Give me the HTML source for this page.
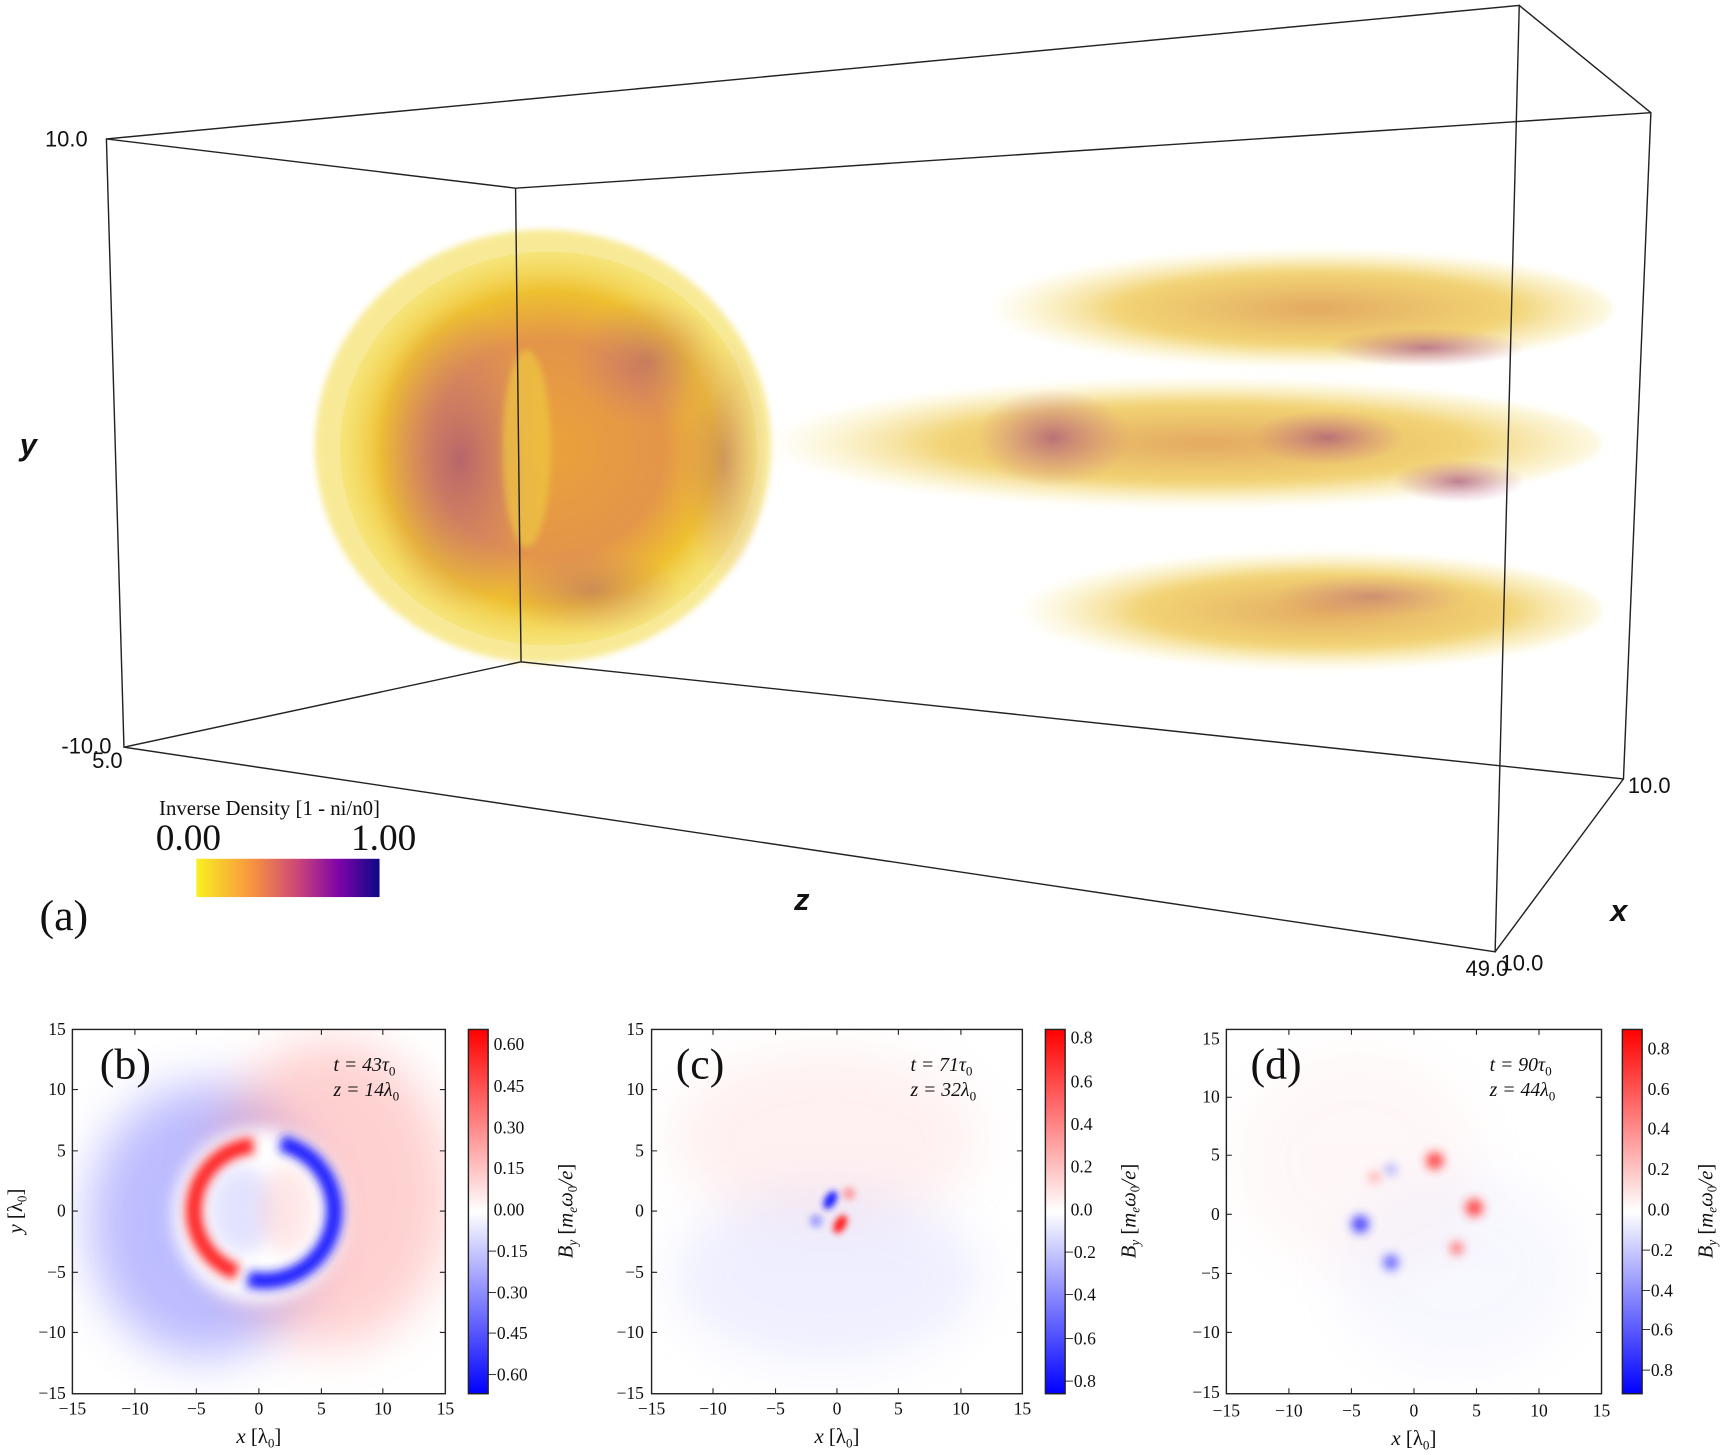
<!DOCTYPE html>
<html><head><meta charset="utf-8"><style>
html,body{margin:0;padding:0;background:#fff;}
svg{display:block;}
text{font-family:"Liberation Serif",serif;fill:#111;}
.s{font-family:"Liberation Sans",sans-serif;}
.t{font-size:16px;}
</style></head><body>
<svg width="1720" height="1455" viewBox="0 0 1568 1330" preserveAspectRatio="none" xmlns="http://www.w3.org/2000/svg">
<defs>
<filter id="bl" x="-50%" y="-50%" width="200%" height="200%"><feGaussianBlur stdDeviation="8"/></filter>
<filter id="bl2" x="-100%" y="-100%" width="300%" height="300%"><feGaussianBlur stdDeviation="3"/></filter>
<filter id="bl4" x="-100%" y="-100%" width="300%" height="300%"><feGaussianBlur stdDeviation="4.5"/></filter>
<filter id="bl3" x="-50%" y="-50%" width="200%" height="200%"><feGaussianBlur stdDeviation="22"/></filter>
<filter id="blw" x="-10%" y="-50%" width="120%" height="200%"><feGaussianBlur stdDeviation="3"/></filter>
<radialGradient id="sph" cx="50%" cy="50%" r="50%">
<stop offset="0" stop-color="#eaa23a"/><stop offset="0.55" stop-color="#e3954a"/><stop offset="0.8" stop-color="#eec030"/><stop offset="1" stop-color="#f5e060" stop-opacity="0.5"/></radialGradient>
<radialGradient id="bnd" cx="55%" cy="50%" r="50%">
<stop offset="0" stop-color="#dd9a45" stop-opacity="0.85"/><stop offset="0.6" stop-color="#ecc03a" stop-opacity="0.7"/><stop offset="1" stop-color="#f5e070" stop-opacity="0"/></radialGradient>
<radialGradient id="pnk" cx="50%" cy="50%" r="50%">
<stop offset="0" stop-color="#a4507a" stop-opacity="0.7"/><stop offset="1" stop-color="#c8708a" stop-opacity="0"/></radialGradient>
<linearGradient id="cb" x1="0" x2="1"><stop offset="0" stop-color="#f8f021"/><stop offset="0.3" stop-color="#f89540"/><stop offset="0.55" stop-color="#cc4778"/><stop offset="0.78" stop-color="#7e03a8"/><stop offset="1" stop-color="#0d0887"/></linearGradient>
<linearGradient id="bwr" x1="0" y1="0" x2="0" y2="1"><stop offset="0" stop-color="#ff0000"/><stop offset="0.5" stop-color="#ffffff"/><stop offset="1" stop-color="#0000ff"/></linearGradient>
<clipPath id="cp"><rect x="0" y="0" width="340" height="333"/></clipPath>
</defs>

<g>
<ellipse cx="495" cy="408" rx="208" ry="198" fill="#f3dc50" opacity="0.6" filter="url(#bl2)"/>
<ellipse cx="500" cy="410" rx="190" ry="180" fill="url(#sph)"/>
<ellipse cx="420" cy="420" rx="80" ry="140" fill="url(#pnk)"/>
<ellipse cx="590" cy="330" rx="70" ry="60" fill="url(#pnk)" opacity="0.7"/>
<ellipse cx="660" cy="420" rx="40" ry="110" fill="url(#pnk)" opacity="0.6"/>
<ellipse cx="540" cy="540" rx="80" ry="40" fill="url(#pnk)" opacity="0.6"/>
<ellipse cx="480" cy="410" rx="22" ry="90" fill="#f0d040" opacity="0.6" filter="url(#bl2)"/>
<ellipse cx="1170" cy="282" rx="300" ry="55" fill="url(#bnd)" filter="url(#blw)"/>
<ellipse cx="1300" cy="318" rx="90" ry="18" fill="url(#pnk)"/>
<ellipse cx="1060" cy="405" rx="400" ry="60" fill="url(#bnd)" filter="url(#blw)"/>
<ellipse cx="960" cy="400" rx="70" ry="45" fill="url(#pnk)"/>
<ellipse cx="1210" cy="400" rx="70" ry="25" fill="url(#pnk)"/>
<ellipse cx="1330" cy="440" rx="60" ry="20" fill="url(#pnk)"/>
<ellipse cx="1180" cy="558" rx="280" ry="55" fill="url(#bnd)" filter="url(#blw)"/>
<ellipse cx="1250" cy="545" rx="90" ry="20" fill="url(#pnk)" opacity="0.6"/>
</g>

<g stroke="#222" stroke-width="1.3" fill="none">
<path d="M97 127 L1385 5 L1363 870 L113 683 Z"/>
<path d="M1385 5 L1505 103 L1480 712 L1363 870"/>
<path d="M97 127 L470 172 L1505 103 M470 172 L475 605 L1480 712 M113 683 L475 605"/>
</g>
<g class="s" font-size="20">
<text x="41" y="134" class="s">10.0</text>
<text x="56" y="689" class="s">-10.0</text>
<text x="84" y="702" class="s">5.0</text>
<text x="1484" y="725" class="s">10.0</text>
<text x="1336" y="892" class="s">49.0</text>
<text x="1368" y="887" class="s">10.0</text>
<text x="18" y="416" class="s" font-size="28" font-weight="bold" font-style="italic">y</text>
<text x="724" y="832" class="s" font-size="28" font-weight="bold" font-style="italic">z</text>
<text x="1468" y="842" class="s" font-size="28" font-weight="bold" font-style="italic">x</text>
</g>
<text x="36" y="850" font-size="40">(a)</text>
<text x="145" y="745" font-size="19">Inverse Density [1 - ni/n0]</text>
<text x="142" y="777" font-size="34">0.00</text>
<text x="320" y="777" font-size="34">1.00</text>
<rect x="179" y="785" width="167" height="35" fill="url(#cb)"/>

<g transform="translate(66,941)">
<g clip-path="url(#cp)">
<ellipse cx="120" cy="175" rx="105" ry="125" fill="#6a6aff" opacity="0.45" filter="url(#bl3)"/>
<ellipse cx="235" cy="150" rx="110" ry="140" fill="#ff7a7a" opacity="0.35" filter="url(#bl3)"/>
<ellipse cx="170" cy="170" rx="78" ry="80" fill="#fff" filter="url(#bl)"/>
<path d="M 165 106 A 60 60 0 0 0 150 222" stroke="#ff2020" stroke-width="15" fill="none" filter="url(#bl4)"/>
<path d="M 190 104 A 62 62 0 0 1 160 228" stroke="#1a1aff" stroke-width="15" fill="none" filter="url(#bl4)"/>
<ellipse cx="155" cy="165" rx="30" ry="40" fill="#c8c8ff" opacity="0.5" filter="url(#bl)"/>
<ellipse cx="195" cy="165" rx="25" ry="40" fill="#ffd0d0" opacity="0.5" filter="url(#bl)"/>
</g>
<text x="25" y="45" font-size="40">(b)</text>
<text x="238" y="38" font-size="18" font-style="italic">t = 43τ<tspan font-size="12" dy="4" font-style="normal">0</tspan></text>
<text x="238" y="61" font-size="18" font-style="italic">z = 14λ<tspan font-size="12" dy="4" font-style="normal">0</tspan></text>
</g>
<g transform="translate(594,941)">
<g clip-path="url(#cp)">
<ellipse cx="160" cy="100" rx="140" ry="80" fill="#ffb0b0" opacity="0.18" filter="url(#bl3)"/>
<ellipse cx="160" cy="225" rx="140" ry="80" fill="#b0b0ff" opacity="0.2" filter="url(#bl3)"/>
<ellipse cx="163" cy="156" rx="5" ry="9" fill="#1a1aff" transform="rotate(30 163 156)" filter="url(#bl2)"/>
<ellipse cx="172" cy="178" rx="5" ry="9" fill="#ff1a1a" transform="rotate(30 172 178)" filter="url(#bl2)"/>
<ellipse cx="150" cy="175" rx="6" ry="6" fill="#6060ff" opacity="0.5" filter="url(#bl2)"/>
<ellipse cx="180" cy="150" rx="6" ry="6" fill="#ff6060" opacity="0.5" filter="url(#bl2)"/>
</g>
<text x="22" y="45" font-size="40">(c)</text>
<text x="236" y="38" font-size="18" font-style="italic">t = 71τ<tspan font-size="12" dy="4" font-style="normal">0</tspan></text>
<text x="236" y="61" font-size="18" font-style="italic">z = 32λ<tspan font-size="12" dy="4" font-style="normal">0</tspan></text>
</g>
<g transform="translate(1118,941)">
<g clip-path="url(#cp)">
<ellipse cx="120" cy="120" rx="110" ry="100" fill="#ffcccc" opacity="0.15" filter="url(#bl3)"/>
<ellipse cx="210" cy="220" rx="110" ry="90" fill="#ccccff" opacity="0.15" filter="url(#bl3)"/>
<circle cx="190" cy="120" r="8" fill="#ff2a2a" opacity="0.85" filter="url(#bl4)"/>
<circle cx="226" cy="163" r="8" fill="#ff2a2a" opacity="0.85" filter="url(#bl4)"/>
<circle cx="210" cy="200" r="6" fill="#ff5050" opacity="0.8" filter="url(#bl4)"/>
<circle cx="122" cy="178" r="8" fill="#2a2aff" opacity="0.85" filter="url(#bl4)"/>
<circle cx="150" cy="213" r="7" fill="#4040ff" opacity="0.8" filter="url(#bl4)"/>
<circle cx="135" cy="135" r="5" fill="#ff8080" opacity="0.7" filter="url(#bl4)"/>
<circle cx="150" cy="128" r="5" fill="#8080ff" opacity="0.7" filter="url(#bl4)"/>
</g>
<text x="22" y="45" font-size="40">(d)</text>
<text x="240" y="38" font-size="18" font-style="italic">t = 90τ<tspan font-size="12" dy="4" font-style="normal">0</tspan></text>
<text x="240" y="61" font-size="18" font-style="italic">z = 44λ<tspan font-size="12" dy="4" font-style="normal">0</tspan></text>
</g>

<g stroke="#222" stroke-width="1.3" fill="none">
<rect x="66" y="941" width="340" height="333"/>
<rect x="594" y="941" width="338" height="333"/>
<rect x="1118" y="941" width="342" height="333"/>
<rect x="427" y="941" width="18" height="333" fill="url(#bwr)"/>
<rect x="953" y="941" width="18" height="333" fill="url(#bwr)"/>
<rect x="1479" y="941" width="18" height="333" fill="url(#bwr)"/>
</g>
<g stroke="#222" stroke-width="1">
<path d="M123 1274v-5M179 1274v-5M236 1274v-5M293 1274v-5M349 1274v-5M123 941v5M179 941v5M236 941v5M293 941v5M349 941v5"/>
<path d="M66 996h5M66 1052h5M66 1107h5M66 1163h5M66 1218h5M406 996h-5M406 1052h-5M406 1107h-5M406 1163h-5M406 1218h-5"/>
<path d="M650 1274v-5M707 1274v-5M763 1274v-5M819 1274v-5M876 1274v-5M650 941v5M707 941v5M763 941v5M819 941v5M876 941v5"/>
<path d="M594 996h5M594 1052h5M594 1107h5M594 1163h5M594 1218h5M932 996h-5M932 1052h-5M932 1107h-5M932 1163h-5M932 1218h-5"/>
<path d="M1175 1274v-5M1232 1274v-5M1289 1274v-5M1346 1274v-5M1403 1274v-5M1175 941v5M1232 941v5M1289 941v5M1346 941v5M1403 941v5"/>
<path d="M1118 1003h5M1118 1056h5M1118 1110h5M1118 1164h5M1118 1218h5M1460 1003h-5M1460 1056h-5M1460 1110h-5M1460 1164h-5M1460 1218h-5"/>
</g>
<g class="t" text-anchor="middle">
<text x="66" y="1293">−15</text><text x="123" y="1293">−10</text><text x="179" y="1293">−5</text><text x="236" y="1293">0</text><text x="293" y="1293">5</text><text x="349" y="1293">10</text><text x="406" y="1293">15</text>
<text x="594" y="1293">−15</text><text x="650" y="1293">−10</text><text x="707" y="1293">−5</text><text x="763" y="1293">0</text><text x="819" y="1293">5</text><text x="876" y="1293">10</text><text x="932" y="1293">15</text>
<text x="1118" y="1295">−15</text><text x="1175" y="1295">−10</text><text x="1232" y="1295">−5</text><text x="1289" y="1295">0</text><text x="1346" y="1295">5</text><text x="1403" y="1295">10</text><text x="1460" y="1295">15</text>
</g>
<g class="t" text-anchor="end">
<text x="60" y="946">15</text><text x="60" y="1001">10</text><text x="60" y="1057">5</text><text x="60" y="1112">0</text><text x="60" y="1168">−5</text><text x="60" y="1223">−10</text><text x="60" y="1279">−15</text>
<text x="587" y="946">15</text><text x="587" y="1001">10</text><text x="587" y="1057">5</text><text x="587" y="1112">0</text><text x="587" y="1168">−5</text><text x="587" y="1223">−10</text><text x="587" y="1279">−15</text>
<text x="1112" y="955">15</text><text x="1112" y="1008">10</text><text x="1112" y="1061">5</text><text x="1112" y="1115">0</text><text x="1112" y="1169">−5</text><text x="1112" y="1223">−10</text><text x="1112" y="1278">−15</text>
</g>
<g class="t">
<text x="450" y="960">0.60</text><text x="450" y="998">0.45</text><text x="450" y="1036">0.30</text><text x="450" y="1073">0.15</text><text x="450" y="1111">0.00</text><text x="444" y="1149">−0.15</text><text x="444" y="1187">−0.30</text><text x="444" y="1224">−0.45</text><text x="444" y="1262">−0.60</text>
<text x="976" y="954">0.8</text><text x="976" y="994">0.6</text><text x="976" y="1033">0.4</text><text x="976" y="1072">0.2</text><text x="976" y="1111">0.0</text><text x="970" y="1150">−0.2</text><text x="970" y="1189">−0.4</text><text x="970" y="1229">−0.6</text><text x="970" y="1268">−0.8</text>
<text x="1502" y="964">0.8</text><text x="1502" y="1001">0.6</text><text x="1502" y="1037">0.4</text><text x="1502" y="1074">0.2</text><text x="1502" y="1111">0.0</text><text x="1496" y="1148">−0.2</text><text x="1496" y="1185">−0.4</text><text x="1496" y="1221">−0.6</text><text x="1496" y="1258">−0.8</text>
</g>
<g font-size="19" text-anchor="middle">
<text x="236" y="1319"><tspan font-style="italic">x</tspan> [λ<tspan font-size="12" dy="4">0</tspan><tspan dy="-4">]</tspan></text>
<text x="763" y="1319"><tspan font-style="italic">x</tspan> [λ<tspan font-size="12" dy="4">0</tspan><tspan dy="-4">]</tspan></text>
<text x="1289" y="1321"><tspan font-style="italic">x</tspan> [λ<tspan font-size="12" dy="4">0</tspan><tspan dy="-4">]</tspan></text>
<text transform="translate(20,1107) rotate(-90)"><tspan font-style="italic">y</tspan> [λ<tspan font-size="12" dy="4">0</tspan><tspan dy="-4">]</tspan></text>
<text transform="translate(522,1107) rotate(-90)"><tspan font-style="italic">B</tspan><tspan font-size="12" dy="4" font-style="italic">y</tspan><tspan dy="-4"> [</tspan><tspan font-style="italic">m</tspan><tspan font-size="12" dy="4" font-style="italic">e</tspan><tspan dy="-4" font-style="italic">ω</tspan><tspan font-size="12" dy="4">0</tspan><tspan dy="-4" font-style="italic">/e</tspan>]</text>
<text transform="translate(1035,1107) rotate(-90)"><tspan font-style="italic">B</tspan><tspan font-size="12" dy="4" font-style="italic">y</tspan><tspan dy="-4"> [</tspan><tspan font-style="italic">m</tspan><tspan font-size="12" dy="4" font-style="italic">e</tspan><tspan dy="-4" font-style="italic">ω</tspan><tspan font-size="12" dy="4">0</tspan><tspan dy="-4" font-style="italic">/e</tspan>]</text>
<text transform="translate(1561,1107) rotate(-90)"><tspan font-style="italic">B</tspan><tspan font-size="12" dy="4" font-style="italic">y</tspan><tspan dy="-4"> [</tspan><tspan font-style="italic">m</tspan><tspan font-size="12" dy="4" font-style="italic">e</tspan><tspan dy="-4" font-style="italic">ω</tspan><tspan font-size="12" dy="4">0</tspan><tspan dy="-4" font-style="italic">/e</tspan>]</text>
</g>
</svg>
</body></html>
